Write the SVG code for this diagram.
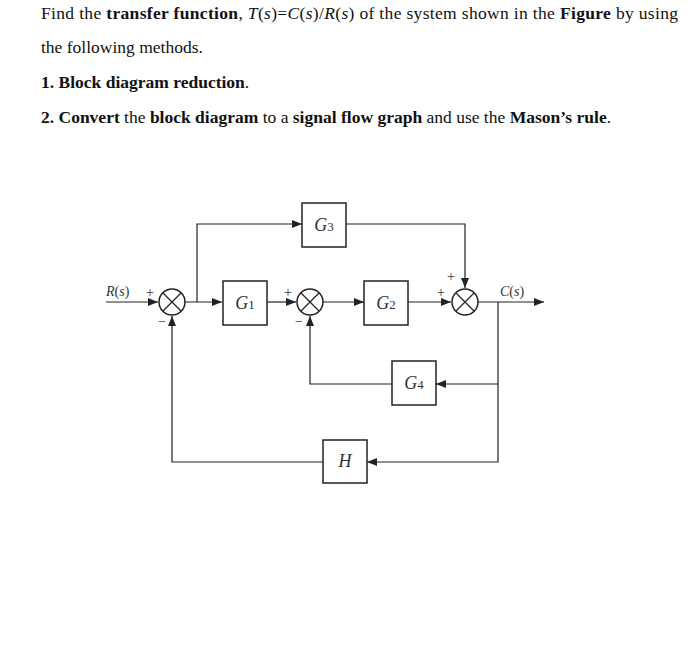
<svg xmlns="http://www.w3.org/2000/svg" width="700" height="653" viewBox="0 0 700 653">
<defs><marker id="a" markerWidth="10" markerHeight="8" refX="10" refY="4" orient="auto" markerUnits="userSpaceOnUse"><path d="M0,0 L10,4 L0,8 z" fill="#222"/></marker></defs>
<style>
.t{font-family:"Liberation Serif",serif;font-size:17.5px;fill:#111}
.b{fill:#fff;stroke:#222;stroke-width:1.5}
.l{fill:none;stroke:#222;stroke-width:1.2}
.g{font-family:"Liberation Serif",serif;font-style:italic;font-size:18px;fill:#333;text-anchor:middle}
.s{font-family:"Liberation Serif",serif;font-size:14px;fill:#333}
</style>
<rect width="700" height="653" fill="#fff"/>
<text class="t" x="41" y="19" textLength="637" lengthAdjust="spacing">Find the <tspan font-weight="bold">transfer function</tspan>, <tspan font-style="italic">T</tspan>(<tspan font-style="italic">s</tspan>)=<tspan font-style="italic">C</tspan>(<tspan font-style="italic">s</tspan>)/<tspan font-style="italic">R</tspan>(<tspan font-style="italic">s</tspan>) of the system shown in the <tspan font-weight="bold">Figure</tspan> by using</text>
<text class="t" x="41" y="53">the following methods.</text>
<text class="t" x="41" y="88" font-weight="bold">1. Block diagram reduction<tspan font-weight="normal">.</tspan></text>
<text class="t" x="41" y="123"><tspan font-weight="bold">2. Convert</tspan> the <tspan font-weight="bold">block diagram</tspan> to a <tspan font-weight="bold">signal flow graph</tspan> and use the <tspan font-weight="bold">Mason’s rule</tspan>.</text>
<g id="connectors">
<path class="l" d="M106,302 H158" marker-end="url(#a)"/>
<path class="l" d="M185,302 H222" marker-end="url(#a)"/>
<path class="l" d="M197,302 V224 H302" marker-end="url(#a)"/>
<path class="l" d="M267,302 H296" marker-end="url(#a)"/>
<path class="l" d="M323,302 H364" marker-end="url(#a)"/>
<path class="l" d="M408,302 H451" marker-end="url(#a)"/>
<path class="l" d="M346,224 H465 V288" marker-end="url(#a)"/>
<path class="l" d="M478,302 H544" marker-end="url(#a)"/>
<path class="l" d="M498,302 V462 H367" marker-end="url(#a)"/>
<path class="l" d="M498,384 H436" marker-end="url(#a)"/>
<path class="l" d="M392,384 H310 V316" marker-end="url(#a)"/>
<path class="l" d="M323,462 H172 V316" marker-end="url(#a)"/>
</g>
<g id="sum1"><circle class="b" cx="172" cy="302" r="13"/><path class="l" d="M163,293 L181,311 M181,293 L163,311"/></g>
<g id="sum2"><circle class="b" cx="310" cy="302" r="13"/><path class="l" d="M301,293 L319,311 M319,293 L301,311"/></g>
<g id="sum3"><circle class="b" cx="465" cy="302" r="13"/><path class="l" d="M456,293 L474,311 M474,293 L456,311"/></g>
<g id="G1"><rect class="b" x="223" y="281" width="44" height="44"/><text class="g" x="245" y="309">G<tspan font-size="13" font-style="normal">1</tspan></text></g>
<g id="G2"><rect class="b" x="364" y="281" width="44" height="44"/><text class="g" x="386" y="309">G<tspan font-size="13" font-style="normal">2</tspan></text></g>
<g id="G3"><rect class="b" x="302" y="203" width="44" height="44"/><text class="g" x="324" y="231">G<tspan font-size="13" font-style="normal">3</tspan></text></g>
<g id="G4"><rect class="b" x="392" y="361" width="44" height="44"/><text class="g" x="414" y="389">G<tspan font-size="13" font-style="normal">4</tspan></text></g>
<g id="H"><rect class="b" x="323" y="440" width="44" height="43"/><text class="g" x="345" y="467" font-size="15">H</text></g>
<g id="labels">
<text class="s" x="106" y="296" font-size="15"><tspan font-style="italic">R</tspan>(<tspan font-style="italic">s</tspan>)</text>
<text class="s" x="146" y="297">+</text>
<text class="s" x="158" y="326">−</text>
<text class="s" x="284" y="297">+</text>
<text class="s" x="295" y="326">−</text>
<text class="s" x="437" y="297">+</text>
<text class="s" x="447" y="281">+</text>
<text class="s" x="500" y="296" font-size="15"><tspan font-style="italic">C</tspan>(<tspan font-style="italic">s</tspan>)</text>
</g>
</svg>
